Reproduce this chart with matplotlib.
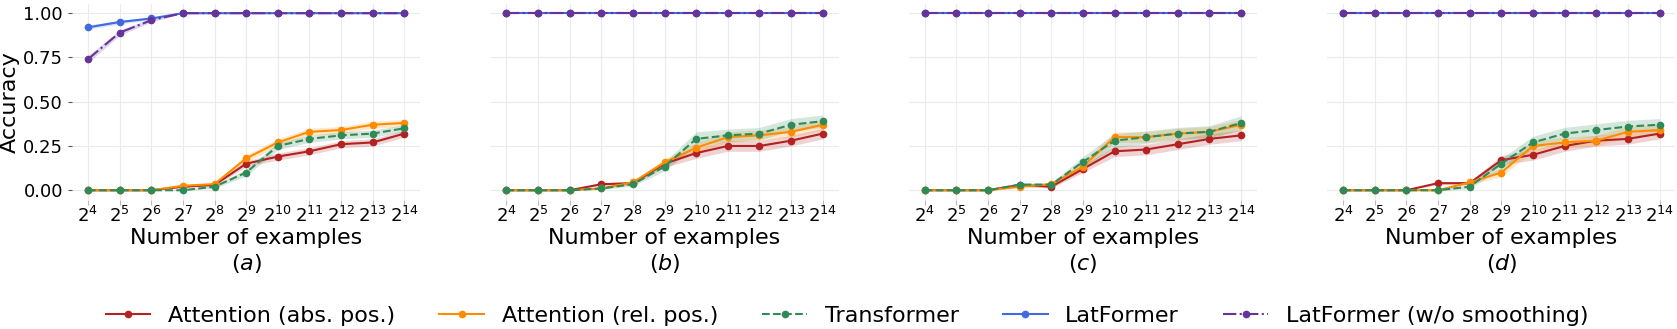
import numpy as np
import matplotlib
matplotlib.use("Agg")
import matplotlib.pyplot as plt

# x axis: log2 of number of examples
EXPONENTS = [4, 5, 6, 7, 8, 9, 10, 11, 12, 13, 14]
PANELS = ["a", "b", "c", "d"]

# mean accuracy per panel (a, b, c, d)
ABS_POS = [
    [0, 0, 0, 0.02, 0.03, 0.15, 0.19, 0.22, 0.26, 0.27, 0.32],
    [0, 0, 0, 0.034, 0.04, 0.15, 0.21, 0.25, 0.25, 0.28, 0.32],
    [0, 0, 0, 0.03, 0.02, 0.12, 0.22, 0.23, 0.26, 0.29, 0.31],
    [0, 0, 0, 0.04, 0.04, 0.17, 0.20, 0.25, 0.28, 0.29, 0.32],
]
REL_POS = [
    [0, 0, 0, 0.025, 0.035, 0.18, 0.27, 0.33, 0.34, 0.37, 0.38],
    [0, 0, 0, 0.01, 0.044, 0.157, 0.24, 0.30, 0.31, 0.33, 0.37],
    [0, 0, 0, 0.02, 0.034, 0.134, 0.30, 0.30, 0.32, 0.33, 0.37],
    [0, 0, 0, 0, 0.044, 0.10, 0.25, 0.27, 0.28, 0.33, 0.34],
]
TRANSFORMER = [
    [0, 0, 0, 0, 0.02, 0.10, 0.25, 0.29, 0.31, 0.32, 0.35],
    [0, 0, 0, 0.01, 0.034, 0.134, 0.29, 0.31, 0.32, 0.37, 0.39],
    [0, 0, 0, 0.032, 0.032, 0.16, 0.28, 0.30, 0.32, 0.33, 0.38],
    [0, 0, 0, 0, 0.02, 0.15, 0.27, 0.32, 0.34, 0.36, 0.37],
]
LATFORMER = [
    [0.92, 0.95, 0.97, 1, 1, 1, 1, 1, 1, 1, 1],
    [1, 1, 1, 1, 1, 1, 1, 1, 1, 1, 1],
    [1, 1, 1, 1, 1, 1, 1, 1, 1, 1, 1],
    [1, 1, 1, 1, 1, 1, 1, 1, 1, 1, 1],
]
LAT_NO_SMOOTH = [
    [0.74, 0.89, 0.96, 1, 1, 1, 1, 1, 1, 1, 1],
    [1, 1, 1, 1, 1, 1, 1, 1, 1, 1, 1],
    [1, 1, 1, 1, 1, 1, 1, 1, 1, 1, 1],
    [1, 1, 1, 1, 1, 1, 1, 1, 1, 1, 1],
]

# half-width of the shaded band per panel
ABS_POS_SD = [
    [0, 0, 0, 0.005, 0.008, 0.015, 0.02, 0.02, 0.02, 0.02, 0.02],
    [0, 0, 0, 0.008, 0.01, 0.02, 0.03, 0.03, 0.03, 0.03, 0.03],
    [0, 0, 0, 0.008, 0.008, 0.02, 0.03, 0.03, 0.03, 0.03, 0.03],
    [0, 0, 0, 0.008, 0.01, 0.025, 0.03, 0.03, 0.03, 0.03, 0.03],
]
REL_POS_SD = [
    [0, 0, 0, 0.005, 0.008, 0.02, 0.02, 0.02, 0.02, 0.02, 0.02],
    [0, 0, 0, 0.005, 0.01, 0.02, 0.03, 0.03, 0.03, 0.03, 0.03],
    [0, 0, 0, 0.008, 0.01, 0.025, 0.03, 0.03, 0.03, 0.03, 0.03],
    [0, 0, 0, 0.005, 0.01, 0.025, 0.03, 0.03, 0.03, 0.03, 0.03],
]
TRANSFORMER_SD = [
    [0, 0, 0, 0.003, 0.008, 0.02, 0.02, 0.02, 0.02, 0.02, 0.02],
    [0, 0, 0, 0.005, 0.01, 0.025, 0.04, 0.035, 0.035, 0.035, 0.035],
    [0, 0, 0, 0.008, 0.01, 0.03, 0.04, 0.035, 0.035, 0.035, 0.04],
    [0, 0, 0, 0.005, 0.01, 0.03, 0.035, 0.035, 0.035, 0.035, 0.035],
]
LATFORMER_SD = [
    [0.012, 0.01, 0.008, 0, 0, 0, 0, 0, 0, 0, 0],
    [0, 0, 0, 0, 0, 0, 0, 0, 0, 0, 0],
    [0, 0, 0, 0, 0, 0, 0, 0, 0, 0, 0],
    [0, 0, 0, 0, 0, 0, 0, 0, 0, 0, 0],
]
LAT_NO_SMOOTH_SD = [
    [0.02, 0.015, 0.01, 0, 0, 0, 0, 0, 0, 0, 0],
    [0, 0, 0, 0, 0, 0, 0, 0, 0, 0, 0],
    [0, 0, 0, 0, 0, 0, 0, 0, 0, 0, 0],
    [0, 0, 0, 0, 0, 0, 0, 0, 0, 0, 0],
]

SERIES = [
    ("Attention (abs. pos.)", ABS_POS, ABS_POS_SD, "#b22222", "-"),
    ("Attention (rel. pos.)", REL_POS, REL_POS_SD, "#ff8c00", "-"),
    ("Transformer", TRANSFORMER, TRANSFORMER_SD, "#2e8b57", "--"),
    ("LatFormer", LATFORMER, LATFORMER_SD, "#4169e1", "-"),
    ("LatFormer (w/o smoothing)", LAT_NO_SMOOTH, LAT_NO_SMOOTH_SD, "#663399", "-."),
]

fig, axes = plt.subplots(1, 4, figsize=(16.77, 3.29), dpi=100, sharey=True)
fig.subplots_adjust(left=0.043, right=0.999, top=0.987, bottom=0.392, wspace=0.202)

x = np.array(EXPONENTS)
for p, (ax, tag) in enumerate(zip(axes, PANELS)):
    for name, vals, sds, color, ls in SERIES:
        y = np.array(vals[p])
        sd = np.array(sds[p])
        ax.fill_between(x, y - sd, y + sd, color=color, alpha=0.2, lw=0)
        ax.plot(x, y, ls, color=color, lw=1.5, marker="o", ms=4.5, label=name)
    ax.set_xticks(x)
    ax.set_xticklabels([f"$2^{{{e}}}$" for e in EXPONENTS], fontsize=13)
    ax.set_yticks([0, 0.25, 0.5, 0.75, 1.0])
    ax.tick_params(axis="y", labelsize=13, length=3, pad=3.5, color="#555555")
    ax.tick_params(axis="x", length=3.5, color="#bbbbbb", pad=0.5)
    ax.grid(color="#ebebeb", lw=0.8)
    ax.set_axisbelow(True)
    for s in ax.spines.values():
        s.set_visible(False)
    ax.set_xlabel(f"Number of examples\n$({tag})$", fontsize=16, labelpad=2)
    if p > 0:
        ax.tick_params(axis="y", length=0)

axes[0].set_ylabel("Accuracy", fontsize=16, labelpad=2)

handles, labels = axes[0].get_legend_handles_labels()
fig.legend(handles, labels, loc="center", bbox_to_anchor=(0.505, 0.04), ncol=5,
           frameon=False, fontsize=16, handlelength=2.0, handletextpad=0.8,
           columnspacing=2.0)

fig.savefig("out.png", dpi=100)
